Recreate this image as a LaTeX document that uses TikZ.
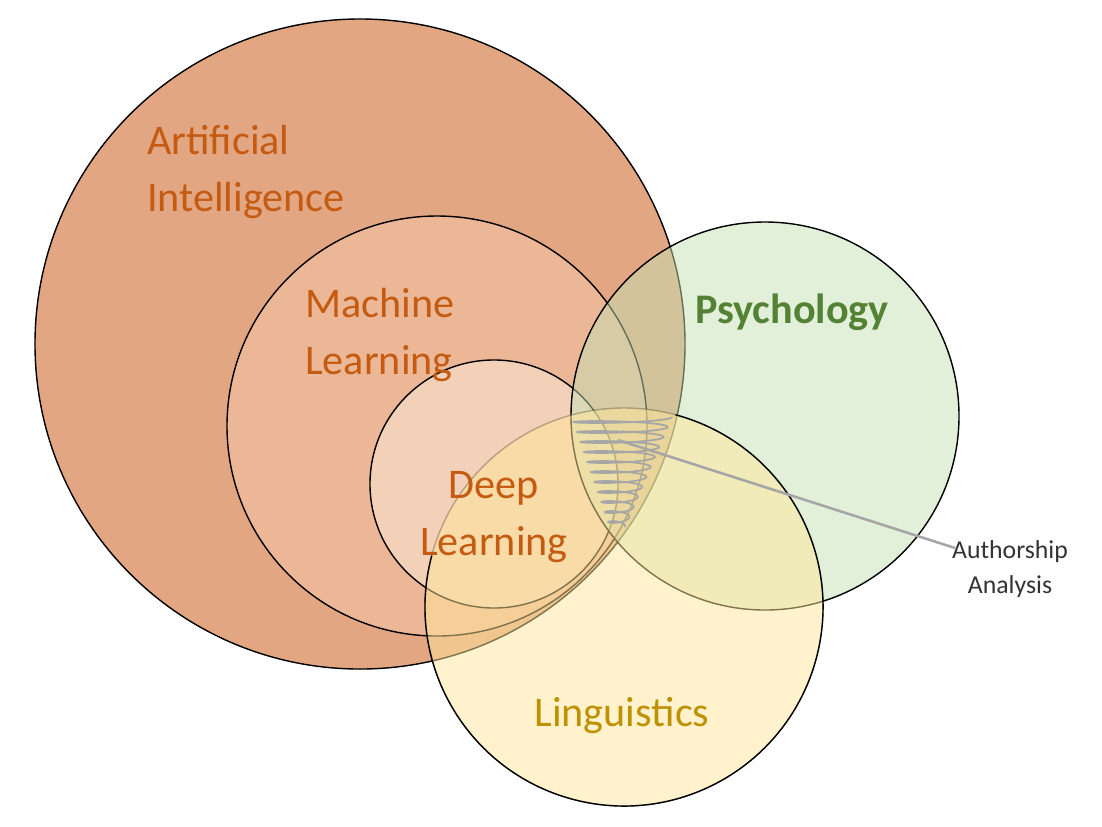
\documentclass[tikz,border=0pt]{standalone}
\usepackage{fontspec}
\setmainfont{Carlito}
\begin{document}
\begin{tikzpicture}[x=0.03cm,y=-0.03cm,
  venn/.style={circle,draw=black,line width=1.2pt,inner sep=0pt},
  lab/.style={font=\fontsize{36}{48}\selectfont,align=left,inner sep=0pt}]
\useasboundingbox (0,0) rectangle (1102,826);
\node[venn,fill={rgb,255:red,226;green,166;blue,131},minimum size=19.5cm] (ai) at (360,344) {};
\node[venn,fill={rgb,255:red,235;green,183;blue,151},minimum size=12.6cm] (ml) at (437,426) {};
\node[venn,fill={rgb,255:red,243;green,208;blue,184},minimum size=7.44cm] (dl) at (494,484) {};
\node[venn,fill={rgb,255:red,197;green,224;blue,180},fill opacity=0.5,draw opacity=1,minimum size=11.64cm] (psy) at (765,416) {};
\node[venn,fill={rgb,255:red,255;green,230;blue,153},fill opacity=0.5,draw opacity=0.25,minimum size=11.94cm] (lin) at (624,607) {};
\draw[line width=1.2pt,black] (624,607) ++(75:5.97cm) arc[start angle=75,end angle=-195,radius=5.97cm];
\draw[gray!70,line width=1.5pt] plot[domain=0:11,samples=500,smooth]
  ({622-4.5*\x/11+(50-42.5*\x/11)*cos(\x*360)},{417+10*\x+3*sin(\x*360)});
\node[lab,anchor=west,text={rgb,255:red,197;green,90;blue,17}] (ait) at (147,172) {Artificial\\Intelligence};
\node[lab,anchor=west,text={rgb,255:red,197;green,90;blue,17}] (mlt) at (305,335) {Machine\\Learning};
\node[lab,align=center,text={rgb,255:red,197;green,90;blue,17}] (dlt) at (494,517) {Deep\\Learning};
\node[lab,font=\fontsize{36}{48}\selectfont\bfseries,text={rgb,255:red,84;green,130;blue,53}] (psyt) at (792,312) {Psychology};
\node[lab,text={rgb,255:red,191;green,144;blue,0}] (lint) at (622,716) {Linguistics};
\coordinate (sc) at (618,440);
\node[font=\fontsize{22}{30}\selectfont,align=center,text=black!80,inner sep=2pt] (aa) at (1010,569) {Authorship\\Analysis};
\draw[gray!70,line width=2.2pt] (sc) -- (955,548);
\end{tikzpicture}
\end{document}
